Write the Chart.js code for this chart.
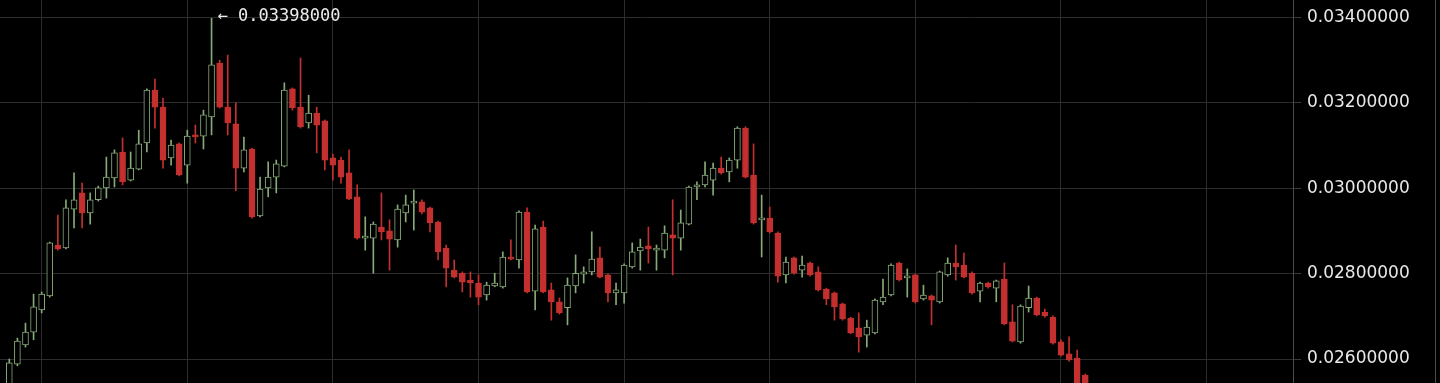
<!DOCTYPE html>
<html>
<head>
<meta charset="utf-8">
<script src="https://cdn.jsdelivr.net/npm/chart.js@4.4.0/dist/chart.umd.min.js"></script>
<style>
  html, body { margin: 0; padding: 0; background: #000; overflow: hidden; }
</style>
</head>
<body>
<canvas id="chart" width="1440" height="383"></canvas>
<script>
// OHLC, one entry per candle
const opens = [
  0.02523, 0.02588, 0.02633, 0.02663, 0.02715, 0.02748, 0.02867, 0.02860, 0.02951, 0.02989,
  0.02942, 0.02973, 0.03001, 0.03024, 0.03085, 0.03019, 0.03045, 0.03106, 0.03230, 0.03190,
  0.03071, 0.03104, 0.03054, 0.03125, 0.03122, 0.03167, 0.03293, 0.03190, 0.03151, 0.03047,
  0.03092, 0.02935, 0.03001, 0.03026, 0.03052, 0.03233, 0.03190, 0.03153, 0.03176, 0.03158,
  0.03071, 0.03066, 0.03036, 0.02980, 0.02883, 0.02883, 0.02909, 0.02900, 0.02879, 0.02942,
  0.02965, 0.02968, 0.02954, 0.02921, 0.02860, 0.02808, 0.02801, 0.02785, 0.02778, 0.02750,
  0.02771, 0.02769, 0.02839, 0.02832, 0.02944, 0.02759, 0.02909, 0.02762, 0.02734, 0.02720,
  0.02771, 0.02799, 0.02804, 0.02837, 0.02797, 0.02755, 0.02755, 0.02816, 0.02853, 0.02865,
  0.02855, 0.02855, 0.02891, 0.02883, 0.02916, 0.03003, 0.03008, 0.03019, 0.03047, 0.03038,
  0.03066, 0.03141, 0.03031, 0.02926, 0.02930, 0.02895, 0.02797, 0.02837, 0.02808, 0.02825,
  0.02804, 0.02764, 0.02755, 0.02729, 0.02696, 0.02673, 0.02656, 0.02661, 0.02734, 0.02750,
  0.02825, 0.02790, 0.02797, 0.02741, 0.02748, 0.02734, 0.02797, 0.02825, 0.02820, 0.02801,
  0.02759, 0.02778, 0.02766, 0.02787, 0.02687, 0.02640, 0.02720, 0.02743, 0.02710, 0.02698,
  0.02640, 0.02612, 0.02602, 0.02562
];
const highs = [
  0.02600, 0.02649, 0.02684, 0.02752, 0.02757, 0.02874, 0.02937, 0.02973, 0.03036, 0.03012,
  0.02989, 0.03005, 0.03073, 0.03090, 0.03118, 0.03085, 0.03136, 0.03233, 0.03256, 0.03211,
  0.03113, 0.03106, 0.03136, 0.03148, 0.03183, 0.03398, 0.03300, 0.03312, 0.03200, 0.03120,
  0.03094, 0.03026, 0.03062, 0.03066, 0.03247, 0.03235, 0.03305, 0.03218, 0.03190, 0.03160,
  0.03080, 0.03073, 0.03090, 0.03008, 0.02933, 0.02921, 0.02989, 0.02926, 0.02961, 0.02984,
  0.02996, 0.02973, 0.02956, 0.02923, 0.02867, 0.02832, 0.02804, 0.02804, 0.02797, 0.02780,
  0.02801, 0.02851, 0.02879, 0.02947, 0.02954, 0.02914, 0.02923, 0.02778, 0.02743, 0.02790,
  0.02844, 0.02816, 0.02898, 0.02862, 0.02799, 0.02778, 0.02823, 0.02872, 0.02881, 0.02909,
  0.02867, 0.02912, 0.02973, 0.02949, 0.03005, 0.03015, 0.03062, 0.03059, 0.03073, 0.03071,
  0.03144, 0.03144, 0.03104, 0.02984, 0.02956, 0.02898, 0.02839, 0.02839, 0.02841, 0.02827,
  0.02816, 0.02766, 0.02757, 0.02731, 0.02698, 0.02708, 0.02691, 0.02741, 0.02787, 0.02823,
  0.02827, 0.02811, 0.02799, 0.02773, 0.02750, 0.02806, 0.02837, 0.02867, 0.02848, 0.02804,
  0.02780, 0.02780, 0.02785, 0.02825, 0.02727, 0.02727, 0.02771, 0.02745, 0.02717, 0.02701,
  0.02645, 0.02652, 0.02621, 0.02565
];
const lows = [
  0.02513, 0.02584, 0.02628, 0.02645, 0.02708, 0.02745, 0.02855, 0.02858, 0.02907, 0.02907,
  0.02916, 0.02970, 0.02977, 0.03003, 0.03008, 0.03017, 0.03043, 0.03085, 0.03141, 0.03047,
  0.03054, 0.03029, 0.03012, 0.03106, 0.03092, 0.03125, 0.03188, 0.03125, 0.02994, 0.03038,
  0.02930, 0.02933, 0.02980, 0.02989, 0.03050, 0.03183, 0.03141, 0.03141, 0.03083, 0.03043,
  0.03019, 0.03012, 0.02973, 0.02881, 0.02855, 0.02801, 0.02879, 0.02808, 0.02862, 0.02921,
  0.02902, 0.02940, 0.02898, 0.02832, 0.02769, 0.02790, 0.02757, 0.02745, 0.02727, 0.02738,
  0.02769, 0.02766, 0.02832, 0.02813, 0.02755, 0.02715, 0.02755, 0.02691, 0.02705, 0.02680,
  0.02755, 0.02778, 0.02797, 0.02790, 0.02734, 0.02727, 0.02731, 0.02813, 0.02808, 0.02825,
  0.02808, 0.02837, 0.02797, 0.02855, 0.02914, 0.02973, 0.03003, 0.02984, 0.03033, 0.03015,
  0.03047, 0.03024, 0.02916, 0.02839, 0.02895, 0.02780, 0.02778, 0.02799, 0.02792, 0.02794,
  0.02759, 0.02727, 0.02691, 0.02691, 0.02659, 0.02616, 0.02628, 0.02659, 0.02727, 0.02748,
  0.02783, 0.02745, 0.02731, 0.02738, 0.02680, 0.02731, 0.02794, 0.02785, 0.02790, 0.02752,
  0.02734, 0.02766, 0.02734, 0.02680, 0.02640, 0.02637, 0.02710, 0.02701, 0.02698, 0.02635,
  0.02607, 0.02595, 0.02523, 0.02499
];
const closes = [
  0.02591, 0.02642, 0.02663, 0.02722, 0.02752, 0.02872, 0.02858, 0.02954, 0.02973, 0.02942,
  0.02973, 0.03001, 0.03026, 0.03083, 0.03015, 0.03047, 0.03104, 0.03230, 0.03190, 0.03066,
  0.03101, 0.03031, 0.03122, 0.03120, 0.03172, 0.03289, 0.03190, 0.03153, 0.03047, 0.03090,
  0.02933, 0.02998, 0.03026, 0.03057, 0.03230, 0.03188, 0.03144, 0.03176, 0.03148, 0.03066,
  0.03054, 0.03026, 0.02975, 0.02883, 0.02888, 0.02916, 0.02898, 0.02881, 0.02951, 0.02961,
  0.02968, 0.02944, 0.02919, 0.02851, 0.02813, 0.02792, 0.02780, 0.02778, 0.02745, 0.02773,
  0.02778, 0.02839, 0.02834, 0.02944, 0.02757, 0.02905, 0.02757, 0.02734, 0.02708, 0.02773,
  0.02801, 0.02804, 0.02834, 0.02792, 0.02755, 0.02762, 0.02820, 0.02851, 0.02862, 0.02858,
  0.02860, 0.02895, 0.02883, 0.02919, 0.03003, 0.03008, 0.03031, 0.03047, 0.03036, 0.03066,
  0.03141, 0.03026, 0.02919, 0.02930, 0.02898, 0.02794, 0.02827, 0.02801, 0.02820, 0.02797,
  0.02762, 0.02741, 0.02722, 0.02694, 0.02661, 0.02652, 0.02675, 0.02738, 0.02745, 0.02820,
  0.02785, 0.02792, 0.02734, 0.02750, 0.02738, 0.02804, 0.02825, 0.02816, 0.02792, 0.02755,
  0.02778, 0.02769, 0.02783, 0.02682, 0.02642, 0.02724, 0.02743, 0.02703, 0.02701, 0.02637,
  0.02609, 0.02598, 0.02527, 0.02504
];
const priceTicks = [0.026, 0.028, 0.030, 0.032, 0.034];
// vertical grid every 18 candles
const timeGrid = [4, 22, 40, 58, 76, 94, 112, 130, 148];
const peakIndex = 25;

const UP = "#86aa78";
const DOWN = "#c3302f";
const GRID = "#2c2c2c";

const isUp = opens.map((o, i) => closes[i] >= o);

// arrow label next to the highest wick, plus the outer frame line
const overlay = {
  id: "overlay",
  afterDatasetsDraw(chart) {
    const { ctx } = chart;
    const xs = chart.scales.x;
    const ys = chart.scales.y;
    ctx.save();
    ctx.strokeStyle = "#4a4a4a";
    ctx.lineWidth = 1;
    ctx.beginPath();
    ctx.moveTo(chart.width - 4.5, 0);
    ctx.lineTo(chart.width - 4.5, chart.height);
    ctx.stroke();

    const px = xs.getPixelForValue(peakIndex) + 6;
    const py = ys.getPixelForValue(highs[peakIndex]);
    ctx.fillStyle = "#ececec";
    ctx.font = '17px "DejaVu Sans Mono"';
    ctx.textBaseline = "middle";
    ctx.fillText("\u2190 " + highs[peakIndex].toFixed(8), px, py - 2);
    ctx.restore();
  },
};

new Chart(document.getElementById("chart"), {
  type: "bar",
  data: {
    datasets: [
      {
        label: "body",
        data: opens.map((o, i) => ({ x: i, y: [o, closes[i]] })),
        barThickness: 6,
        minBarLength: 2,
        grouped: false,
        backgroundColor: isUp.map((u) => (u ? "#000" : DOWN)),
        borderColor: isUp.map((u) => (u ? UP : DOWN)),
        borderWidth: 1,
        borderSkipped: false,
        order: 0,
      },
      {
        label: "wick",
        data: lows.map((l, i) => ({ x: i, y: [l, highs[i]] })),
        barThickness: 1,
        grouped: false,
        backgroundColor: isUp.map((u) => (u ? UP : DOWN)),
        borderWidth: 0,
        order: 1,
      },
    ],
  },
  options: {
    responsive: false,
    animation: false,
    devicePixelRatio: 1,
    layout: { padding: 0 },
    plugins: {
      legend: { display: false },
      tooltip: { enabled: false },
    },
    scales: {
      x: {
        type: "linear",
        min: -1.15,
        max: 158.68,
        offset: false,
        afterBuildTicks: (s) => {
          s.ticks = timeGrid.map((v) => ({ value: v }));
        },
        grid: { color: GRID, drawTicks: false, offset: false },
        border: { display: false },
        ticks: { display: false },
      },
      y: {
        type: "linear",
        position: "right",
        min: 0.025438,
        max: 0.03441,
        afterBuildTicks: (s) => {
          s.ticks = priceTicks.map((v) => ({ value: v }));
        },
        afterFit: (s) => {
          s.width = 147;
          s.paddingTop = 0;
          s.paddingBottom = 0;
        },
        grid: { color: GRID, tickLength: 8, tickColor: "#3a3a3a" },
        border: { display: true, color: "#4a4a4a" },
        ticks: {
          color: "#e8e8e8",
          padding: 6,
          font: { family: "DejaVu Sans", size: 17 },
          callback: (v) => Number(v).toFixed(8),
        },
      },
    },
  },
  plugins: [overlay],
});
</script>
</body>
</html>
